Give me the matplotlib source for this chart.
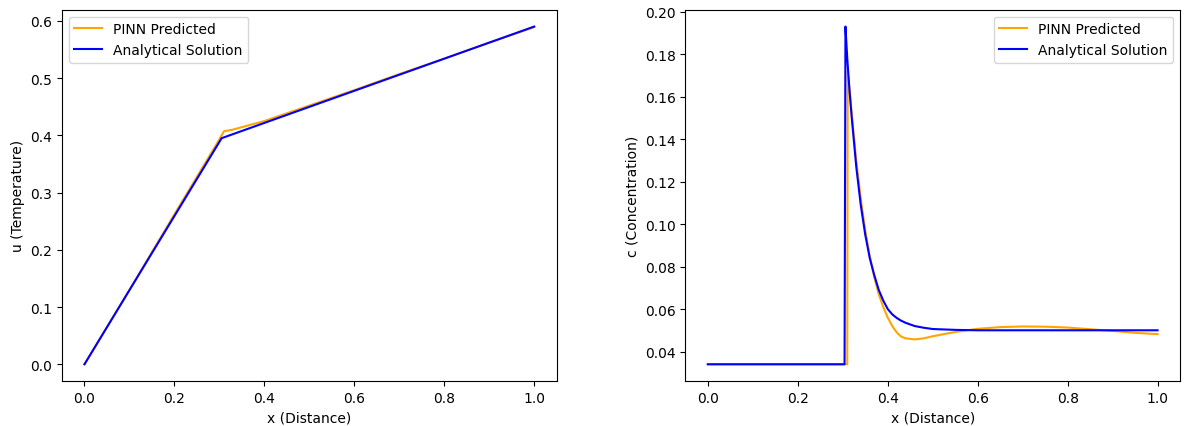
import matplotlib
matplotlib.use("Agg")
import matplotlib.pyplot as plt

# Left: temperature
xu_pred = [0.0, 0.1, 0.2, 0.3, 0.31, 0.33, 0.4, 0.5, 0.6, 0.7, 0.8, 0.9, 1.0]
u_pred = [0.0, 0.13, 0.262, 0.393, 0.407, 0.410, 0.425, 0.452, 0.479, 0.507, 0.534, 0.562, 0.589]
xu_true = [0.0, 0.305, 1.0]
u_true = [0.0, 0.395, 0.590]

# Right: concentration
xc_true = [0.0, 0.304, 0.306, 0.31, 0.315, 0.32, 0.33, 0.34, 0.35, 0.36, 0.37, 0.38, 0.39, 0.40,
           0.41, 0.42, 0.43, 0.44, 0.46, 0.48, 0.50, 0.55, 0.6, 0.8, 1.0]
c_true = [0.034, 0.034, 0.193, 0.178, 0.163, 0.150, 0.127, 0.109, 0.095, 0.084, 0.076, 0.069, 0.064, 0.060,
          0.0575, 0.0558, 0.0545, 0.0535, 0.052, 0.0512, 0.0506, 0.0502, 0.050, 0.050, 0.050]
xc_pred = [0.0, 0.310, 0.311, 0.32, 0.33, 0.34, 0.35, 0.36, 0.37, 0.38, 0.39, 0.40, 0.41, 0.42, 0.43,
           0.44, 0.46, 0.48, 0.50, 0.55, 0.6, 0.65, 0.7, 0.75, 0.8, 0.85, 0.9, 0.95, 1.0]
c_pred = [0.034, 0.034, 0.172, 0.152, 0.130, 0.112, 0.097, 0.085, 0.075, 0.067, 0.061, 0.056, 0.052, 0.049, 0.047,
          0.0462, 0.0457, 0.0462, 0.0472, 0.0492, 0.0507, 0.0515, 0.0518, 0.0517, 0.0513, 0.0505, 0.0497, 0.0488, 0.0482]

fig, (ax1, ax2) = plt.subplots(1, 2, figsize=(11.92, 4.27), dpi=100)
ax1.plot(xu_pred, u_pred, color="orange", label="PINN Predicted")
ax1.plot(xu_true, u_true, color="blue", label="Analytical Solution")
ax1.set_xlabel("x (Distance)")
ax1.set_ylabel("u (Temperature)")
ax1.legend(loc="upper left")

ax2.plot(xc_pred, c_pred, color="orange", label="PINN Predicted")
ax2.plot(xc_true, c_true, color="blue", label="Analytical Solution")
ax2.set_xlabel("x (Distance)")
ax2.set_ylabel("c (Concentration)")
ax2.legend(loc="upper right")

fig.subplots_adjust(left=0.052, right=0.99, bottom=0.105, top=0.975, wspace=0.26)
fig.savefig("out.png")
